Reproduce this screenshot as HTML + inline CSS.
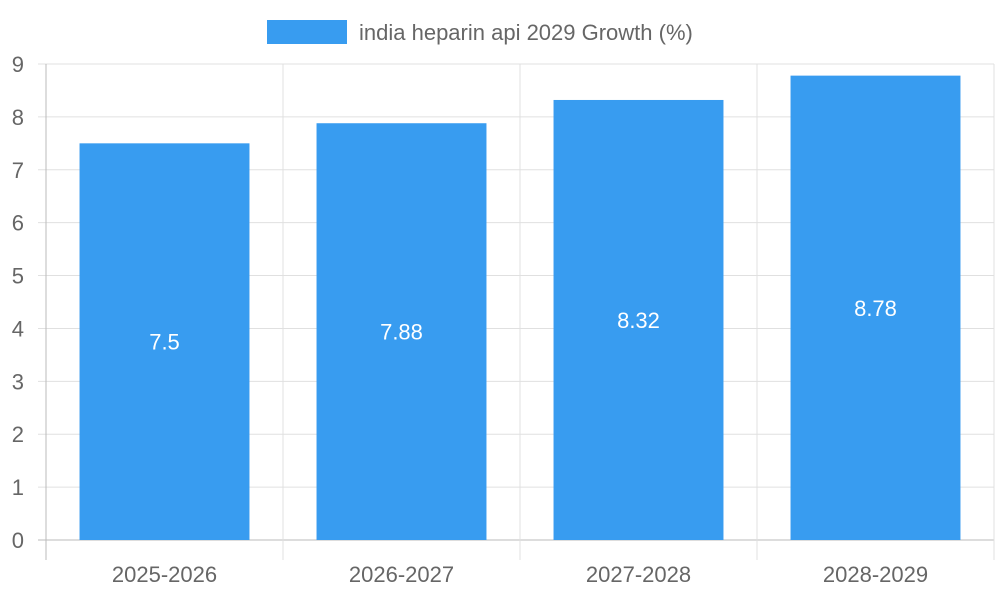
<!DOCTYPE html>
<html><head><meta charset="utf-8"><style>
html,body{margin:0;padding:0;background:#fff;}
svg{display:block;font-family:"Liberation Sans",sans-serif;}
</style></head><body>
<svg id="chart" width="1000" height="600"></svg>
<script>
const categories = ["2025-2026","2026-2027","2027-2028","2028-2029"];
const growthValues = [7.5, 7.88, 8.32, 8.78];
const yTicks = [0,1,2,3,4,5,6,7,8,9];
const seriesLabel = "india heparin api 2029 Growth (%)";

const NS = "http://www.w3.org/2000/svg";
const svg = document.getElementById('chart');
const L = 46, R = 994, T = 64, B = 540, yMax = 9;
const bandW = (R - L) / categories.length;
const y = v => B - (v / yMax) * (B - T);
const xc = i => L + bandW * (i + 0.5);
function mk(tag, attrs, parent) {
  const e = document.createElementNS(NS, tag);
  for (const k in attrs) e.setAttribute(k, attrs[k]);
  (parent || svg).appendChild(e);
  return e;
}
// horizontal grid + y labels
yTicks.forEach(t => {
  const g = mk('line', {x1: L - 8, x2: R, y1: y(t), y2: y(t), stroke: t === 0 ? '#bbb' : '#e0e0e0', 'stroke-width': 1});
  
  
  const lb = mk('text', {x: 24, y: y(t) + 8, 'text-anchor': 'end', 'font-size': 22, fill: '#666'});
  lb.textContent = t;
  
  
});
// vertical grid
for (let i = 0; i <= categories.length; i++) {
  const x = L + bandW * i;
  const v = mk('line', {x1: x, x2: x, y1: T, y2: B + 20, stroke: i === 0 ? '#bbb' : '#e0e0e0', 'stroke-width': 1});
  
  
}
// bars
categories.forEach((c, i) => {
  const w = bandW * 0.717;
  const v = growthValues[i];
  const r = mk('rect', {x: xc(i) - w / 2, y: y(v), width: w, height: B - y(v), fill: '#389cf0'});
  
  
  const vl = mk('text', {x: xc(i), y: (y(v) + B) / 2 + 8, 'text-anchor': 'middle', 'font-size': 22, fill: '#fff'});
  vl.textContent = v;
  
  
  const xl = mk('text', {x: xc(i), y: 582, 'text-anchor': 'middle', 'font-size': 22, fill: '#666'});
  xl.textContent = c;
  
  
});
// legend
const lg = mk('g', {});


mk('rect', {x: 267, y: 20, width: 80, height: 24, fill: '#389cf0'}, lg);
const lt = mk('text', {x: 359, y: 40, 'font-size': 22, fill: '#666'}, lg);
lt.textContent = seriesLabel;
</script>
</body></html>
